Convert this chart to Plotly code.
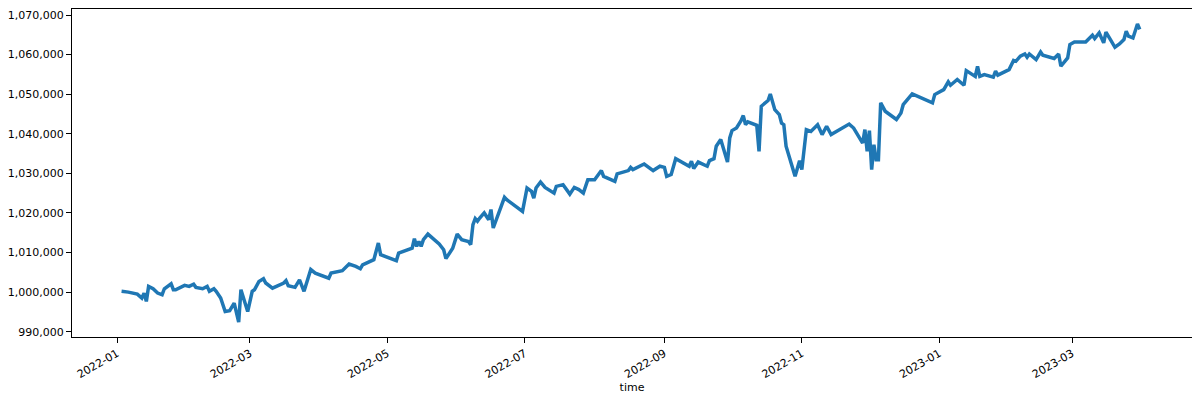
import plotly.graph_objects as go

dates = [
    "2022-01-03", "2022-01-06", "2022-01-10", "2022-01-12", "2022-01-13", "2022-01-14", "2022-01-15",
    "2022-01-17", "2022-01-19", "2022-01-21", "2022-01-22", "2022-01-25", "2022-01-26", "2022-01-27",
    "2022-01-31", "2022-02-02", "2022-02-04", "2022-02-05", "2022-02-08", "2022-02-10", "2022-02-11",
    "2022-02-13", "2022-02-14", "2022-02-16", "2022-02-18", "2022-02-20", "2022-02-22", "2022-02-24",
    "2022-02-25", "2022-02-28", "2022-03-02", "2022-03-03", "2022-03-05", "2022-03-07", "2022-03-08",
    "2022-03-11", "2022-03-16", "2022-03-17", "2022-03-18", "2022-03-21", "2022-03-23", "2022-03-24",
    "2022-03-25", "2022-03-28", "2022-03-30", "2022-04-05", "2022-04-06", "2022-04-11", "2022-04-14",
    "2022-04-17", "2022-04-19", "2022-04-20", "2022-04-25", "2022-04-27", "2022-04-28", "2022-05-05",
    "2022-05-06", "2022-05-12", "2022-05-13", "2022-05-14", "2022-05-15", "2022-05-16", "2022-05-17",
    "2022-05-19", "2022-05-21", "2022-05-24", "2022-05-26", "2022-05-27", "2022-05-30", "2022-06-01",
    "2022-06-03", "2022-06-06", "2022-06-07", "2022-06-08", "2022-06-09", "2022-06-10", "2022-06-11",
    "2022-06-13", "2022-06-15", "2022-06-16", "2022-06-17", "2022-06-19", "2022-06-22", "2022-06-23",
    "2022-06-30", "2022-07-02", "2022-07-04", "2022-07-05", "2022-07-06", "2022-07-08", "2022-07-10",
    "2022-07-14", "2022-07-15", "2022-07-18", "2022-07-20", "2022-07-21", "2022-07-23", "2022-07-25",
    "2022-07-27", "2022-07-29", "2022-08-01", "2022-08-04", "2022-08-05", "2022-08-10", "2022-08-11",
    "2022-08-16", "2022-08-17", "2022-08-18", "2022-08-23", "2022-08-27", "2022-08-30", "2022-09-01",
    "2022-09-02", "2022-09-04", "2022-09-06", "2022-09-10", "2022-09-12", "2022-09-13", "2022-09-14",
    "2022-09-16", "2022-09-20", "2022-09-21", "2022-09-23", "2022-09-24", "2022-09-26", "2022-09-29",
    "2022-09-30", "2022-10-01", "2022-10-03", "2022-10-05", "2022-10-06", "2022-10-07", "2022-10-08",
    "2022-10-12", "2022-10-13", "2022-10-14", "2022-10-17", "2022-10-18", "2022-10-20", "2022-10-22",
    "2022-10-23", "2022-10-24", "2022-10-25", "2022-10-29", "2022-10-31", "2022-11-01", "2022-11-03",
    "2022-11-05", "2022-11-08", "2022-11-10", "2022-11-12", "2022-11-14", "2022-11-21", "2022-11-22",
    "2022-11-24", "2022-11-28", "2022-11-29", "2022-11-30", "2022-12-01", "2022-12-02", "2022-12-03",
    "2022-12-04", "2022-12-05", "2022-12-06", "2022-12-08", "2022-12-13", "2022-12-14", "2022-12-15",
    "2022-12-16", "2022-12-20", "2022-12-29", "2022-12-30", "2023-01-03", "2023-01-05", "2023-01-06",
    "2023-01-09", "2023-01-12", "2023-01-13", "2023-01-17", "2023-01-18", "2023-01-19", "2023-01-21",
    "2023-01-25", "2023-01-26", "2023-01-27", "2023-02-01", "2023-02-03", "2023-02-04", "2023-02-06",
    "2023-02-08", "2023-02-09", "2023-02-10", "2023-02-13", "2023-02-15", "2023-02-16", "2023-02-21",
    "2023-02-22", "2023-02-23", "2023-02-24", "2023-02-27", "2023-02-28", "2023-03-02", "2023-03-07",
    "2023-03-09", "2023-03-10", "2023-03-11", "2023-03-13", "2023-03-15", "2023-03-16", "2023-03-18",
    "2023-03-20", "2023-03-22", "2023-03-24", "2023-03-25", "2023-03-26", "2023-03-28", "2023-03-29",
    "2023-03-30", "2023-03-31",
]

values = [
    1000200, 1000000, 999500, 998500, 999750, 997650, 1001450,
    1000850, 999750, 999350, 1000850, 1002100, 1000600, 1000600,
    1001700, 1001450, 1002000, 1001200, 1000850, 1001450, 1000200,
    1000850, 1000200, 998500, 995100, 995300, 997200, 992400,
    1000600, 995100, 1000200, 1000600, 1002700, 1003400, 1002300,
    1001000, 1002300, 1002900, 1001600, 1001200, 1003100, 1001450,
    1000200, 1005700, 1004800, 1003500, 1004800, 1005400, 1007100,
    1006500, 1005900, 1006900, 1008200, 1012400, 1009450, 1007950,
    1009850, 1011100, 1013500, 1011550, 1012800, 1011550, 1013250,
    1014650, 1013650, 1012150, 1010700, 1008450, 1011100, 1014650,
    1013250, 1012800, 1012000, 1017050, 1018550, 1017900, 1018700,
    1020000, 1018300, 1020850, 1016200, 1019550, 1023950, 1023350,
    1020400, 1026300, 1025450, 1023750, 1026300, 1027800, 1026450,
    1025000, 1026700, 1027150, 1025650, 1024750, 1026450, 1025900,
    1025000, 1028400, 1028400, 1030700, 1029250, 1028000, 1029850,
    1030700, 1031500, 1030950, 1032350, 1030700, 1031800, 1031500,
    1029250, 1029700, 1033700, 1032350, 1031800, 1033050, 1031200,
    1032850, 1031800, 1033200, 1033700, 1036850, 1038550, 1032850,
    1038950, 1040800, 1041450, 1043300, 1044600, 1042300, 1043000,
    1042150, 1035550, 1046950, 1048400, 1050050, 1046100, 1044850,
    1042700, 1042300, 1036850, 1029250, 1033200, 1030950, 1041050,
    1040600, 1042300, 1039800, 1041900, 1039800, 1041900, 1042450,
    1041450, 1037650, 1041050, 1035550, 1040800, 1030950, 1037250,
    1033450, 1033450, 1047800, 1045700, 1043600, 1044400, 1045250,
    1047350, 1050050, 1047800, 1049900, 1051150, 1053100, 1052250,
    1053700, 1052250, 1055950, 1054500, 1057050, 1054500, 1054950,
    1054300, 1055800, 1054800, 1056200, 1058500, 1058300, 1059600,
    1060150, 1059350, 1060150, 1058750, 1060650, 1059850, 1059000,
    1059600, 1060150, 1057050, 1059150, 1062550, 1063200, 1063200,
    1064200, 1064900, 1064050, 1065500, 1062950, 1065700, 1063800,
    1061850, 1062700, 1063800, 1065900, 1064650, 1064200, 1065900,
    1067750, 1066350,
]

x_title = "time"

fig = go.Figure()
fig.add_trace(go.Scatter(
    x=dates, y=values, mode="lines",
    line=dict(color="#1f77b4", width=3.5),
    showlegend=False,
))

font = dict(family="DejaVu Sans", size=11, color="#000000")

fig.update_layout(
    width=1192, height=392,
    margin=dict(l=64, r=8, t=1, b=63, autoexpand=False),
    paper_bgcolor="white", plot_bgcolor="white",
    font=font,
)
fig.update_xaxes(
    type="date",
    range=["2021-12-12", "2023-04-23 05:00"],
    tick0="2022-01-01", dtick="M2", tickformat="%Y-%m",
    tickangle=-30,
    ticks="outside", ticklen=5, tickwidth=1, tickcolor="black",
    showline=True, linecolor="black", linewidth=1, mirror=True,
    showgrid=False, zeroline=False,
    title=dict(text=x_title, font=font, standoff=2),
)
fig.update_yaxes(
    range=[988660, 1071517],
    tick0=990000, dtick=10000, tickformat=",d",
    ticks="outside", ticklen=5, tickwidth=1, tickcolor="black",
    showline=True, linecolor="black", linewidth=1, mirror=True,
    showgrid=False, zeroline=False,
)

fig.write_html("out.html")
